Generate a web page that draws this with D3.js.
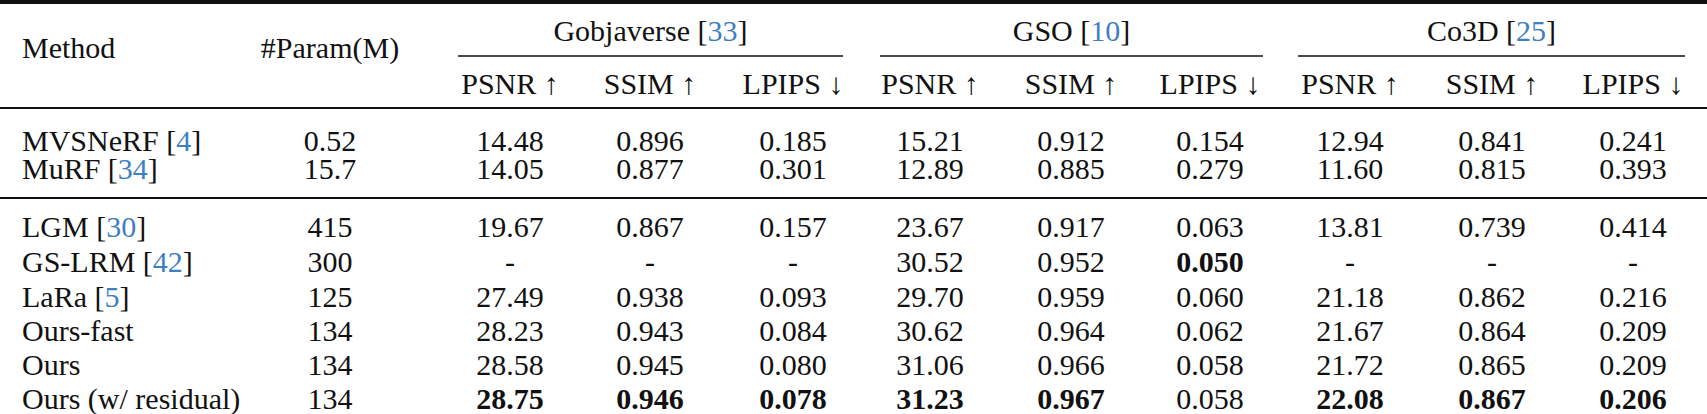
<!DOCTYPE html>
<html><head><meta charset="utf-8">
<script src="https://cdn.jsdelivr.net/npm/d3@7"></script>
<style>body{margin:0;background:#fff}svg{display:block}text{font-family:"Liberation Serif","Times New Roman",serif;fill:#111}</style>
</head><body><svg id="c" width="1707" height="414"></svg>
<script>
const methods=["MVSNeRF","MuRF","LGM","GS-LRM","LaRa","Ours-fast","Ours","Ours (w/ residual)"];
const refs=["4","34","30","42","5",null,null,null];
const params=["0.52","15.7","415","300","125","134","134","134"];
const gobjaverse=[["14.48","0.896","0.185"],["14.05","0.877","0.301"],["19.67","0.867","0.157"],["-","-","-"],["27.49","0.938","0.093"],["28.23","0.943","0.084"],["28.58","0.945","0.080"],["28.75","0.946","0.078"]];
const gso=[["15.21","0.912","0.154"],["12.89","0.885","0.279"],["23.67","0.917","0.063"],["30.52","0.952","0.050"],["29.70","0.959","0.060"],["30.62","0.964","0.062"],["31.06","0.966","0.058"],["31.23","0.967","0.058"]];
const co3d=[["12.94","0.841","0.241"],["11.60","0.815","0.393"],["13.81","0.739","0.414"],["-","-","-"],["21.18","0.862","0.216"],["21.67","0.864","0.209"],["21.72","0.865","0.209"],["22.08","0.867","0.206"]];
const groups=[{name:"Gobjaverse",ref:"33"},{name:"GSO",ref:"10"},{name:"Co3D",ref:"25"}];
const metrics=["PSNR ↑","SSIM ↑","LPIPS ↓"];
const bold=[[3,1,2],[7,0,0],[7,0,1],[7,0,2],[7,1,0],[7,1,1],[7,2,0],[7,2,1],[7,2,2]];

const svg=d3.select("#c");
const FS=30, blue="#3f7fbf";
const colX=d3.scaleOrdinal().domain(d3.range(9)).range([510,650,793,930,1071,1210,1350,1492,1633]);
const rowY=d3.scaleOrdinal().domain(d3.range(8)).range([140,168,226,261,296,330,364,398]);
const groupSpan=[[458,843],[880,1263],[1298,1685]];
function line(x1,x2,y,w){svg.append("line").attr("x1",x1).attr("x2",x2).attr("y1",y).attr("y2",y).attr("stroke","#111").attr("stroke-width",w);}
line(0,1707,2,4);line(0,1707,108,2);line(0,1707,198,2);
groupSpan.forEach(s=>line(s[0],s[1],56,1.5));
function t(x,y,anchor,parts,weight){
  const e=svg.append("text").attr("x",x).attr("y",y).attr("dy","0.35em").attr("text-anchor",anchor).attr("font-size",FS).attr("font-weight",weight||"normal");
  parts.forEach(p=>e.append("tspan").text(p[0]).style("fill",p[1]||"#111"));
}
t(22,47,"start",[["Method"]]);
t(330,47,"middle",[["#Param(M)"]]);
groups.forEach((g,i)=>t((groupSpan[i][0]+groupSpan[i][1])/2,30,"middle",[[g.name+" ["],[g.ref,blue],["]"]]));
d3.range(9).forEach(j=>t(colX(j),83,"middle",[[metrics[j%3]]]));
const isBold=(r,g,m)=>bold.some(b=>b[0]===r&&b[1]===g&&b[2]===m);
methods.forEach((m,i)=>{
  const y=rowY(i);
  t(22,y,"start",refs[i]?[[m+" ["],[refs[i],blue],["]"]]:[[m]]);
  t(330,y,"middle",[[params[i]]]);
  [gobjaverse,gso,co3d].forEach((arr,g)=>arr[i].forEach((v,k)=>t(colX(g*3+k),y,"middle",[[v]],isBold(i,g,k)?"bold":"normal")));
});
</script></body></html>
